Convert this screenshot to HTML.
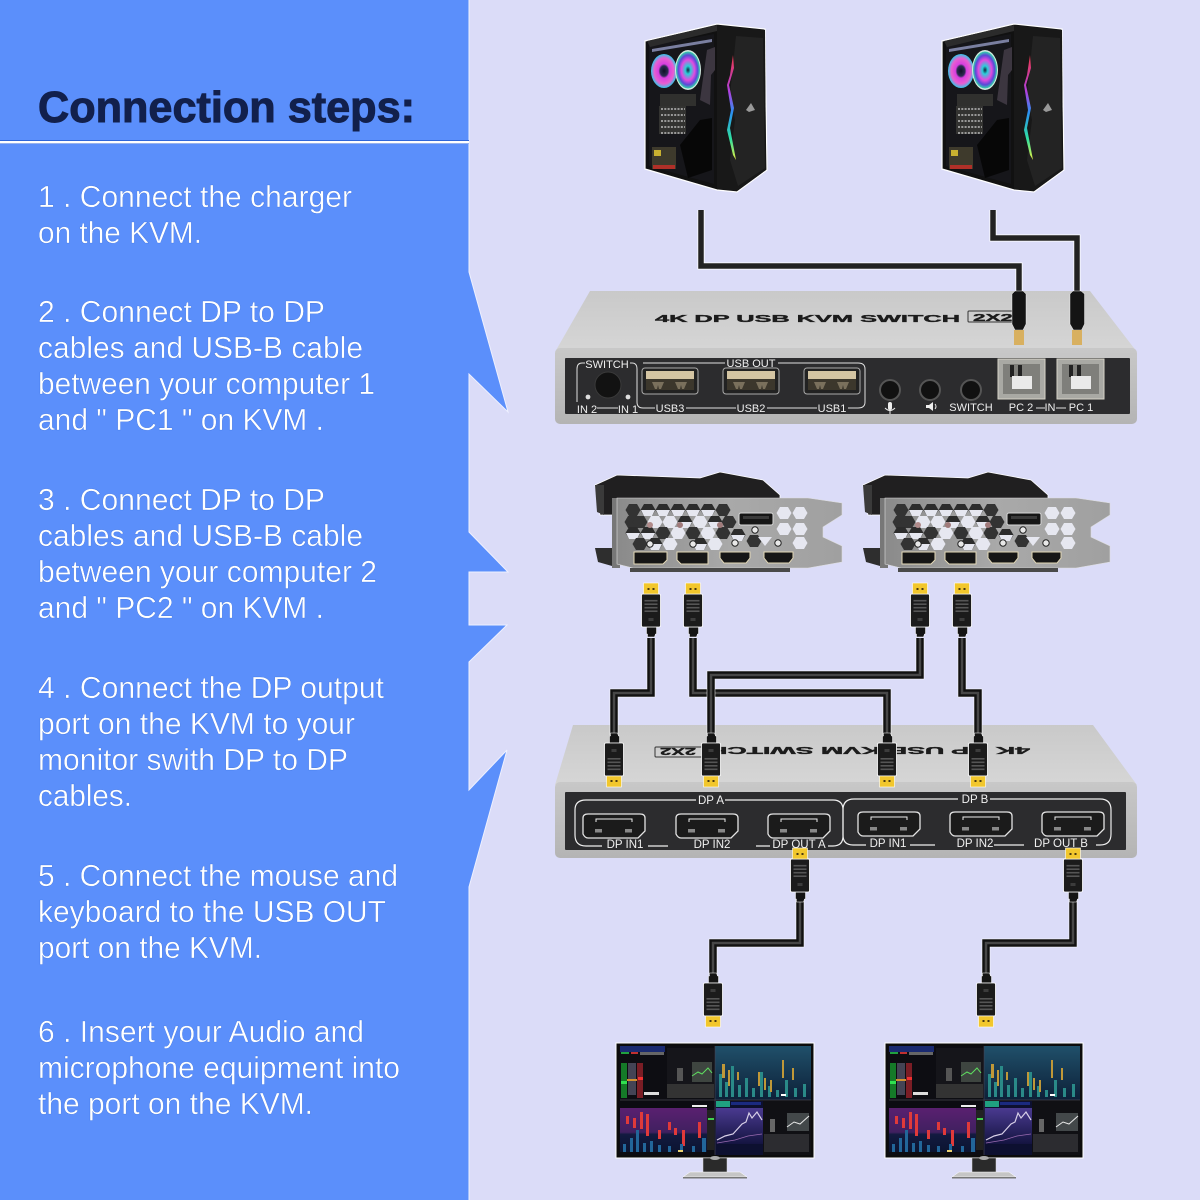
<!DOCTYPE html>
<html><head><meta charset="utf-8"><style>
html,body{margin:0;padding:0;background:#dbdcf8}
svg{display:block}
.s{font:31px "Liberation Sans",sans-serif;fill:#fff;stroke:#2f66d8;stroke-width:.3px}
.l{font:11px "Liberation Sans",sans-serif;fill:#f0f0f0;text-anchor:middle}
.d{font:11.5px "Liberation Sans",sans-serif;fill:#f0f0f0;text-anchor:middle}
.t{font:bold 14px "Liberation Sans",sans-serif;fill:#1c1c1c;stroke:#1c1c1c;stroke-width:.5px}
</style></head><body>
<svg width="1200" height="1200" viewBox="0 0 1200 1200" xmlns="http://www.w3.org/2000/svg">
<defs>
<linearGradient id="top" x1="0" y1="0" x2="0" y2="1"><stop offset="0" stop-color="#c9c9c9"/><stop offset="1" stop-color="#d6d6d6"/></linearGradient>
<linearGradient id="front" x1="0" y1="0" x2="0" y2="1"><stop offset="0" stop-color="#c8c8c8"/><stop offset="1" stop-color="#b4b4b4"/></linearGradient>
<radialGradient id="fan1"><stop offset="0" stop-color="#101025"/><stop offset=".3" stop-color="#2c2c52"/><stop offset=".42" stop-color="#d83fe0"/><stop offset=".75" stop-color="#e85fd0"/><stop offset="1" stop-color="#33c8e8"/></radialGradient>
<radialGradient id="fan2"><stop offset="0" stop-color="#10203a"/><stop offset=".22" stop-color="#28d0d8"/><stop offset=".55" stop-color="#e34be0"/><stop offset=".8" stop-color="#5a48d8"/><stop offset="1" stop-color="#30d8a8"/></radialGradient>
<linearGradient id="rgb" x1="0" y1="0" x2="0" y2="1"><stop offset="0" stop-color="#f03848"/><stop offset=".35" stop-color="#b040e0"/><stop offset=".55" stop-color="#2a90f0"/><stop offset=".8" stop-color="#30e0a0"/><stop offset="1" stop-color="#e8f040"/></linearGradient>
<linearGradient id="tr" x1="0" y1="0" x2="0" y2="1"><stop offset="0" stop-color="#20506a"/><stop offset="1" stop-color="#0d2038"/></linearGradient>
<linearGradient id="pl" x1="0" y1="0" x2="0" y2="1"><stop offset="0" stop-color="#5a2070"/><stop offset=".55" stop-color="#402060"/><stop offset=".6" stop-color="#121a40"/><stop offset="1" stop-color="#0c1430"/></linearGradient>
<linearGradient id="pl2" x1="0" y1="0" x2="0" y2="1"><stop offset="0" stop-color="#4a3a90"/><stop offset="1" stop-color="#141440"/></linearGradient>
<linearGradient id="plate" x1="0" y1="0" x2="1" y2="0"><stop offset="0" stop-color="#8a8a8a"/><stop offset=".5" stop-color="#a9a9a9"/><stop offset="1" stop-color="#a0a0a0"/></linearGradient>

<!-- DP plug, gold tip pointing DOWN; origin at cable centre -->
<g id="dpd">
<path d="M-3.500 0h7l1 3h1v7h-10v-7h1z" fill="#141414" stroke="#fff" stroke-width=".5"/>
<rect x="-9.500" y="10" width="19" height="33" rx="1.500" fill="#1b1b1b" stroke="#fff" stroke-width=".8"/>
<rect x="-2.500" y="16" width="5" height="3" fill="#3c3c3c"/>
<rect x="-6.500" y="25" width="13" height="1.600" fill="#555"/><rect x="-6.500" y="28.500" width="13" height="1.600" fill="#555"/><rect x="-6.500" y="32" width="13" height="1.600" fill="#555"/><rect x="-6.500" y="35.500" width="13" height="1.600" fill="#555"/>
<rect x="-7.500" y="43" width="15" height="11" fill="#f2c72c" stroke="#fff" stroke-width=".6"/>
<rect x="-3.500" y="47" width="2" height="2" fill="#4a3a10"/><rect x="1.500" y="47" width="2" height="2" fill="#4a3a10"/>
</g>

<!-- PC case -->
<g id="pc">
<polygon points="645,41 717,24 765,29 767,170 737,192 717,190 645,169" fill="#111" stroke="#fff" stroke-width="1.200"/>
<polygon points="649,46 714,34 714,184 649,166" fill="#16161a"/>
<polygon points="647,41 717,25 717,31 650,47" fill="#2b2b2b"/>
<polygon points="717,25 765,30 766,170 737,191 717,189" fill="#181818"/>
<polygon points="736,36 763,38 765,168 738,186 730,160 735,120 730,95" fill="#232323"/>
<polygon points="652,49 712,39 712,42 652,52" fill="#7a7fa0"/>
<ellipse cx="664" cy="71" rx="13" ry="17" fill="url(#fan1)"/>
<ellipse cx="688" cy="70" rx="13" ry="20" fill="#d0e8e0"/>
<ellipse cx="688" cy="70" rx="12" ry="18.500" fill="url(#fan2)"/>
<polygon points="707,50 715,47 715,70 711,75 710,105 700,100" fill="#3c3640"/>
<rect x="660" y="94" width="36" height="12" fill="#30302e"/>
<rect x="659" y="106" width="27" height="28" fill="#333331"/>
<g stroke="#bbb" stroke-width="1.600" stroke-dasharray="2 1.300"><line x1="661" y1="109" x2="685" y2="109"/><line x1="661" y1="115" x2="685" y2="115"/><line x1="661" y1="121" x2="685" y2="121"/><line x1="661" y1="127" x2="685" y2="127"/><line x1="661" y1="133" x2="685" y2="133"/></g>
<rect x="652" y="147" width="24" height="22" fill="#3e3a2c"/>
<rect x="653" y="165" width="22" height="4" fill="#b03028"/><rect x="654" y="150" width="7" height="6" fill="#c8b030"/>
<polygon points="700,120 712,118 712,170 688,178 680,145" fill="#070707"/>
<polygon points="733,55 730,75 727,85 731,110 727,130 733,155 736,160 730,128 734,108 729,85 734,68" fill="url(#rgb)"/>
<polygon points="751,103 755,110 749,112 746,110" fill="#999"/>
</g>

<!-- hex hole -->
<g id="hx">
<polygon points="-4,-6 4,-6 7.500,0 4,6 -4,6 -7.500,0" fill="#2c2c2c"/>
<polygon points="-7,0 7,0 4,6 -4,6" fill="#e6e7f0"/>
</g>
<g id="hw"><polygon points="-4,-6 4,-6 7.500,0 4,6 -4,6 -7.500,0" fill="#e6e7f0"/></g>
<g id="hd"><polygon points="-4,-6 4,-6 7.500,0 4,6 -4,6 -7.500,0" fill="#333"/></g>

<!-- GPU -->
<g id="gpu">
<polygon points="595,485 617,475 700,478 720,472 763,480 780,495 780,515 600,515" fill="#201f20" stroke="#fff" stroke-width=".8"/>
<polygon points="595,485 604,485 604,515 597,512" fill="#3a3a3a"/>
<polygon points="595,548 612,548 612,566 598,562" fill="#2e2e2e"/>
<rect x="612" y="498" width="8" height="70" fill="#777"/>
<polygon points="617,498 808,498 842,503 842,515 823,527 823,537 842,546 842,562 808,568 633,568 617,564" fill="url(#plate)" stroke="#ddd" stroke-width=".6"/>
<use href="#hd" x="633" y="510"/><use href="#hx" x="648" y="510"/><use href="#hx" x="663" y="510"/><use href="#hx" x="678" y="510"/><use href="#hx" x="693" y="510"/><use href="#hx" x="708" y="510"/><use href="#hd" x="723" y="510"/>
<use href="#hd" x="632" y="522"/><use href="#hw" x="655" y="522"/><use href="#hd" x="640" y="522"/><use href="#hw" x="670" y="522"/><use href="#hx" x="685" y="522"/><use href="#hw" x="700" y="522"/><use href="#hx" x="715" y="522"/><use href="#hd" x="729" y="522"/>
<use href="#hx" x="633" y="533"/><use href="#hx" x="648" y="533"/><use href="#hd" x="663" y="533"/><use href="#hw" x="678" y="533"/><use href="#hd" x="693" y="533"/><use href="#hw" x="708" y="533"/><use href="#hd" x="723" y="533"/><use href="#hx" x="738" y="535"/>
<use href="#hd" x="640" y="544"/><use href="#hx" x="655" y="544"/><use href="#hw" x="670" y="544"/><use href="#hx" x="700" y="544"/><use href="#hw" x="715" y="544"/><use href="#hd" x="754" y="541"/>
<use href="#hw" x="784" y="513"/><use href="#hw" x="800" y="513"/><use href="#hw" x="784" y="529"/><use href="#hw" x="800" y="529"/><use href="#hw" x="800" y="543"/>
<polygon points="758,537 772,537 765,546" fill="#e6e7f0"/>
<circle cx="650" cy="525" r="3" fill="#b08a8a"/><circle cx="680" cy="525" r="3" fill="#a07a7a"/><circle cx="720" cy="525" r="3" fill="#a07a7a"/>
<rect x="739" y="513" width="34" height="12" rx="2" fill="#161616" stroke="#d8d8d8"/>
<rect x="743" y="516" width="26" height="3" fill="#3a3a3a"/>
<circle cx="755" cy="530" r="3.200" fill="#e8e8e8" stroke="#222"/>
<circle cx="650" cy="544" r="3.200" fill="#e8e8e8" stroke="#222"/><circle cx="693" cy="544" r="3.200" fill="#e8e8e8" stroke="#222"/><circle cx="735" cy="543" r="3.200" fill="#e8e8e8" stroke="#222"/><circle cx="778" cy="543" r="3.200" fill="#e8e8e8" stroke="#222"/>
<g fill="#161616" stroke="#e4d9b8" stroke-width="1">
<polygon points="634,552 667,552 667,560 663,564 634,564"/>
<polygon points="677,552 708,552 708,564 681,564 677,560"/>
<polygon points="720,552 750,552 750,558 746,563 724,563 720,558"/>
<polygon points="764,552 793,552 793,558 789,563 768,563 764,558"/>
</g>
<rect x="630" y="568" width="160" height="4" fill="#4a4a4a"/>
</g>

<!-- Monitor -->
<g id="mon">
<rect x="616" y="1043" width="198" height="115" fill="#0c0c0c" stroke="#fff" stroke-width="1"/>
<rect x="619" y="1046" width="96" height="54" fill="#0d0d12"/>
<rect x="620" y="1046" width="45" height="6" fill="#1a2a70"/>
<rect x="621" y="1052" width="8" height="2" fill="#20a040"/><rect x="631" y="1052" width="7" height="2" fill="#c03030"/><rect x="640" y="1052" width="24" height="3" fill="#666"/>
<rect x="621" y="1063" width="6" height="35" fill="#157a28"/><rect x="621" y="1081" width="6" height="3" fill="#30e050"/>
<rect x="637" y="1063" width="6" height="35" fill="#7a1d25"/><rect x="638" y="1077" width="5" height="3" fill="#f03030"/>
<rect x="628" y="1063" width="8" height="32" fill="#445"/><rect x="627" y="1079" width="10" height="2" fill="#d09030"/>
<rect x="644" y="1092" width="15" height="3" fill="#ddd"/>
<rect x="667" y="1048" width="47" height="50" fill="#15151a"/>
<rect x="677" y="1068" width="6" height="13" fill="#555"/><rect x="692" y="1062" width="20" height="20" fill="#3e4540"/>
<polyline points="692,1076 698,1072 702,1074 708,1068 712,1073" fill="none" stroke="#5fe060"/>
<rect x="667" y="1084" width="47" height="14" fill="#333"/>
<rect x="715" y="1046" width="96" height="54" fill="url(#tr)"/>
<g fill="#2a8a88"><rect x="719" y="1074" width="3" height="23"/><rect x="725" y="1082" width="3" height="15"/><rect x="731" y="1066" width="3" height="31"/><rect x="738" y="1085" width="3" height="12"/><rect x="745" y="1078" width="3" height="19"/><rect x="752" y="1088" width="3" height="9"/><rect x="760" y="1072" width="3" height="25"/><rect x="768" y="1086" width="3" height="11"/><rect x="776" y="1090" width="3" height="7"/><rect x="785" y="1080" width="3" height="17"/><rect x="794" y="1088" width="3" height="9"/><rect x="803" y="1084" width="3" height="13"/></g>
<g fill="#c09838"><rect x="722" y="1064" width="3" height="14"/><rect x="728" y="1070" width="2" height="16"/><rect x="737" y="1072" width="2" height="8"/><rect x="758" y="1072" width="2" height="14"/><rect x="764" y="1078" width="2" height="12"/><rect x="770" y="1080" width="2" height="12"/><rect x="782" y="1060" width="2" height="18"/><rect x="792" y="1068" width="2" height="12"/></g>
<rect x="781" y="1094" width="5" height="2" fill="#fff"/>
<rect x="619" y="1101" width="96" height="54" fill="#0c0c12"/>
<rect x="620" y="1108" width="87" height="44" fill="url(#pl)"/>
<rect x="692" y="1105" width="15" height="2" fill="#eee"/>
<g fill="#e03a3a"><rect x="626" y="1116" width="3" height="8"/><rect x="633" y="1118" width="3" height="10"/><rect x="640" y="1112" width="3" height="17"/><rect x="646" y="1114" width="3" height="22"/><rect x="658" y="1130" width="3" height="9"/><rect x="668" y="1122" width="3" height="8"/><rect x="674" y="1128" width="3" height="7"/><rect x="682" y="1130" width="3" height="16"/><rect x="698" y="1122" width="3" height="16"/></g>
<g fill="#22669a"><rect x="623" y="1144" width="3" height="8"/><rect x="630" y="1138" width="3" height="14"/><rect x="636" y="1130" width="3" height="22"/><rect x="643" y="1143" width="3" height="9"/><rect x="650" y="1141" width="3" height="11"/><rect x="658" y="1145" width="3" height="7"/><rect x="668" y="1146" width="3" height="6"/><rect x="680" y="1144" width="3" height="8"/><rect x="692" y="1146" width="3" height="6"/><rect x="702" y="1138" width="4" height="14"/></g>
<rect x="707" y="1110" width="7" height="40" fill="#222"/><rect x="708" y="1118" width="6" height="2" fill="#40d050"/>
<rect x="678" y="1150" width="5" height="2" fill="#e8d070"/>
<rect x="715" y="1101" width="48" height="54" fill="#0d1030"/>
<rect x="716" y="1101" width="14" height="6" fill="#20a080"/><rect x="731" y="1102" width="30" height="3" fill="#1a2a80"/>
<rect x="716" y="1108" width="47" height="36" fill="url(#pl2)"/>
<polyline points="717,1140 725,1136 733,1134 742,1124 746,1122 749,1113 752,1118 757,1112 762,1120" fill="none" stroke="#d8d0e8" stroke-width="1.200"/>
<polyline points="717,1143 735,1140 748,1136 762,1134" fill="none" stroke="#9a6ab0" stroke-width=".8"/>
<rect x="763" y="1101" width="48" height="54" fill="#101014"/>
<rect x="770" y="1119" width="5" height="13" fill="#666"/><rect x="787" y="1113" width="22" height="18" fill="#43484a"/>
<polyline points="787,1127 794,1122 800,1124 809,1116" fill="none" stroke="#e8e8e8"/>
<rect x="764" y="1134" width="45" height="18" fill="#2c2c30"/>
<g stroke="#445" stroke-width=".7"><line x1="620" y1="1100" x2="811" y2="1100"/><line x1="715" y1="1046" x2="715" y2="1155"/></g>
<polygon points="703,1158 727,1158 727,1174 703,1174" fill="#2a2a2a" stroke="#ddd" stroke-width=".5"/>
<ellipse cx="715" cy="1158" rx="5" ry="2" fill="#aaa"/>
<polygon points="690,1172 740,1172 747,1177 683,1177" fill="#c5c5c5" stroke="#fff" stroke-width=".5"/>
<rect x="683" y="1177" width="64" height="1.500" fill="#777"/>
</g>

<!-- USB A -->
<g id="usb">
<rect x="0" y="0" width="56" height="26" rx="3" fill="#222" stroke="#aaa" stroke-width="1"/>
<rect x="4" y="3" width="48" height="8" fill="#d4c5a3"/>
<rect x="4" y="11" width="48" height="11" fill="#3c372c"/>
<path d="M10 14h12l-3 7h-2l-1-4-1 4h-2zM33 14h12l-3 7h-2l-1-4-1 4h-2z" fill="#7a705c"/>
</g>
<!-- USB B -->
<g id="usbb">
<rect x="0" y="0" width="47" height="40" fill="#a9a9a4" stroke="#d6d4c8" stroke-width="1"/>
<rect x="5" y="5" width="37" height="30" fill="#7f7f7b"/>
<rect x="12" y="6" width="4" height="12" fill="#222"/><rect x="20" y="6" width="4" height="12" fill="#222"/>
<rect x="14" y="17" width="20" height="13" fill="#eaeaea"/>
</g>
<!-- DP port -->
<g id="dpp">
<path d="M1 5q0-4 5-4h52q5 0 5 4v13l-7 7h-50q-3 0-5-4z" fill="#1b1b1b" stroke="#e4e4e4" stroke-width="1.300"/>
<path d="M14 9v-3h36v3" fill="none" stroke="#eee" stroke-width="1"/>
<rect x="13" y="16" width="7" height="3.500" fill="#888"/><rect x="43" y="16" width="7" height="3.500" fill="#888"/>
</g>
</defs>

<rect width="1200" height="1200" fill="#dbdcf8"/>

<!-- Left panel with callout notches -->
<polygon points="0,0 469,0 469,272 508,412 469,374 469,532 508,572 469,572 469,625 507,625 469,662 469,790 507,750 469,887 469,1200 0,1200" fill="#5b8ffb"/>
<polyline points="469,0 469,272 508,412 469,374 469,532 508,572 469,572 469,625 507,625 469,662 469,790 507,750 469,887 469,1200" fill="none" stroke="#eef0ff" stroke-width="1"/>

<text x="38" y="122" font-family="'Liberation Sans',sans-serif" font-weight="bold" font-size="44" fill="#12204c" stroke="#12204c" stroke-width="1" textLength="377" lengthAdjust="spacingAndGlyphs">Connection steps:</text>
<rect x="0" y="140" width="469" height="4" fill="#2f66d8"/>
<rect x="0" y="141" width="469" height="2.500" fill="#fff"/>

<g>
<text class="s" x="38" y="207" textLength="314" lengthAdjust="spacingAndGlyphs">1 . Connect the charger</text>
<text class="s" x="38" y="243" textLength="164" lengthAdjust="spacingAndGlyphs">on the KVM.</text>
<text class="s" x="38" y="322" textLength="287" lengthAdjust="spacingAndGlyphs">2 . Connect DP to DP</text>
<text class="s" x="38" y="358" textLength="325" lengthAdjust="spacingAndGlyphs">cables and USB-B cable</text>
<text class="s" x="38" y="394" textLength="337" lengthAdjust="spacingAndGlyphs">between your computer 1</text>
<text class="s" x="38" y="430" textLength="286" lengthAdjust="spacingAndGlyphs">and " PC1 " on KVM .</text>
<text class="s" x="38" y="510" textLength="287" lengthAdjust="spacingAndGlyphs">3 . Connect DP to DP</text>
<text class="s" x="38" y="546" textLength="325" lengthAdjust="spacingAndGlyphs">cables and USB-B cable</text>
<text class="s" x="38" y="582" textLength="339" lengthAdjust="spacingAndGlyphs">between your computer 2</text>
<text class="s" x="38" y="618" textLength="286" lengthAdjust="spacingAndGlyphs">and " PC2 " on KVM .</text>
<text class="s" x="38" y="698" textLength="346" lengthAdjust="spacingAndGlyphs">4 . Connect the DP output</text>
<text class="s" x="38" y="734" textLength="317" lengthAdjust="spacingAndGlyphs">port on the KVM to your</text>
<text class="s" x="38" y="770" textLength="310" lengthAdjust="spacingAndGlyphs">monitor swith DP to DP</text>
<text class="s" x="38" y="806" textLength="94" lengthAdjust="spacingAndGlyphs">cables.</text>
<text class="s" x="38" y="886" textLength="360" lengthAdjust="spacingAndGlyphs">5 . Connect the mouse and</text>
<text class="s" x="38" y="922" textLength="348" lengthAdjust="spacingAndGlyphs">keyboard to the USB OUT</text>
<text class="s" x="38" y="958" textLength="224" lengthAdjust="spacingAndGlyphs">port on the KVM.</text>
<text class="s" x="38" y="1042" textLength="326" lengthAdjust="spacingAndGlyphs">6 . Insert your Audio and</text>
<text class="s" x="38" y="1078" textLength="362" lengthAdjust="spacingAndGlyphs">microphone equipment into</text>
<text class="s" x="38" y="1114" textLength="275" lengthAdjust="spacingAndGlyphs">the port on the KVM.</text>
</g>

<!-- PCs -->
<use href="#pc"/>
<use href="#pc" x="297"/>

<!-- KVM 1 -->
<polygon points="590,291 1090,291 1137,352 555,352" fill="url(#top)"/>
<rect x="555" y="348" width="582" height="76" rx="5" fill="url(#front)"/>
<rect x="565" y="358" width="565" height="56" rx="1" fill="#2c2c2e"/>
<text class="t" transform="translate(655,322) scale(1,.72)" textLength="305" lengthAdjust="spacingAndGlyphs">4K DP USB KVM SWITCH</text>
<rect x="968" y="311" width="48" height="11" rx="1" fill="none" stroke="#333" stroke-width="1"/>
<text class="t" transform="translate(973,321) scale(1,.72)" textLength="40" lengthAdjust="spacingAndGlyphs">2X2</text>
<g fill="none" stroke="#e0e0e0" stroke-width="1">
<path d="M585 363h-3q-5 0-5 6v33"/><path d="M630 363h2q5 0 5 6v33q0 6 6 6h12M686 408h50M767 408h50M848 408h10q7 0 7-6v-33q0-6-7-6H778M725 363H643"/><path d="M597 408h21"/>
<path d="M1036 408h9M1056 408h10"/>
</g>
<circle cx="608" cy="385" r="13" fill="#121212" stroke="#3a3a3a"/>
<circle cx="588" cy="397" r="2.400" fill="#ddd"/><circle cx="628" cy="397" r="2.400" fill="#ddd"/>
<use href="#usb" x="642" y="368"/><use href="#usb" x="723" y="368"/><use href="#usb" x="804" y="368"/>
<g fill="#111" stroke="#555" stroke-width="2"><circle cx="890" cy="390" r="10"/><circle cx="930" cy="390" r="10"/><circle cx="971" cy="390" r="10"/></g>
<use href="#usbb" x="998" y="359"/><use href="#usbb" x="1057" y="359"/>
<g>
<text class="l" x="607" y="368">SWITCH</text><text class="l" x="751" y="367">USB OUT</text>
<text class="l" x="587" y="413">IN 2</text><text class="l" x="628" y="413">IN 1</text>
<text class="l" x="670" y="412">USB3</text><text class="l" x="751" y="412">USB2</text><text class="l" x="832" y="412">USB1</text>
<text class="l" x="971" y="411">SWITCH</text><text class="l" x="1021" y="411">PC 2</text><text class="l" x="1050" y="411">IN</text><text class="l" x="1081" y="411">PC 1</text>
</g>
<rect x="888" y="402" width="4" height="8" rx="2" fill="#eee"/><path d="M885 408q5 5 10 0M890 411v3" stroke="#eee" fill="none"/>
<path d="M926 405h3l4-3v9l-4-3h-3z" fill="#eee"/><path d="M935 404q2 2.500 0 5" stroke="#eee" fill="none"/>

<!-- USB cables -->
<g fill="none" stroke-linejoin="miter">
<path d="M701 210V266H1019V293" stroke="#fff" stroke-width="7"/>
<path d="M701 210V266H1019V293" stroke="#222" stroke-width="5.500"/>
<path d="M993 210V238H1077V292" stroke="#fff" stroke-width="7"/>
<path d="M993 210V238H1077V292" stroke="#222" stroke-width="5.500"/>
</g>
<path d="M1015 291h8l3 3v30l-3 6h-8l-3-6v-30z" fill="#141414" stroke="#fff" stroke-width=".4"/>
<path d="M1073 291h8l3.500 3v30l-3 6h-8l-3.500-6v-30z" fill="#141414" stroke="#fff" stroke-width=".4"/>
<rect x="1014" y="330" width="10" height="15" fill="#d8b060"/><rect x="1072" y="330" width="10" height="15" fill="#d8b060"/>

<!-- GPUs -->
<use href="#gpu"/>
<use href="#gpu" x="268"/>

<!-- KVM 2 -->
<polygon points="573,725 1093,725 1137,785 555,785" fill="url(#top)"/>
<rect x="555" y="782" width="582" height="76" rx="5" fill="url(#front)"/>
<rect x="565" y="792" width="561" height="58" rx="1" fill="#2c2c2e"/>
<text class="t" transform="translate(1030,747) rotate(180) scale(1,.72)" textLength="322" lengthAdjust="spacingAndGlyphs">4K DP USB KVM SWITCH</text>
<rect x="655" y="747" width="52" height="10" rx="1" fill="none" stroke="#333"/>
<text class="t" transform="translate(696,748) rotate(180) scale(1,.72)" textLength="36" lengthAdjust="spacingAndGlyphs">2X2</text>
<g fill="none" stroke="#eee" stroke-width="1.200">
<path d="M696 800H586q-11 0-11 10v25q0 11 11 11h16M648 846h20M756 846h14M828 846h5q10 0 10-10v-26q0-10-10-10H725"/>
<path d="M958 799H854q-11 0-11 11v25q0 10 10 10h13M910 845h25M994 845h30M1096 845h4q11 0 11-11v-24q0-11-11-11h-110"/>
</g>
<use href="#dpp" x="582" y="813"/><use href="#dpp" x="675" y="813"/><use href="#dpp" x="767" y="813"/>
<use href="#dpp" x="857" y="811"/><use href="#dpp" x="949" y="811"/><use href="#dpp" x="1041" y="811"/>
<g>
<text class="d" x="711" y="804">DP A</text><text class="d" x="975" y="803">DP B</text>
<text class="d" x="625" y="848">DP IN1</text><text class="d" x="712" y="848">DP IN2</text><text class="d" x="799" y="848">DP OUT A</text>
<text class="d" x="888" y="847">DP IN1</text><text class="d" x="975" y="847">DP IN2</text><text class="d" x="1061" y="847">DP OUT B</text>
</g>

<!-- DP cables -->
<g fill="none" stroke-linejoin="miter">
<path d="M651 638V693H614V735" stroke="#fff" stroke-width="8.500"/>
<path d="M693 638V693H887V735" stroke="#fff" stroke-width="8.500"/>
<path d="M651 638V693H614V735" stroke="#111" stroke-width="7.500"/><path d="M651 638V693H614V735" stroke="#474747" stroke-width="2.500"/>
<path d="M693 638V693H887V735" stroke="#111" stroke-width="7.500"/><path d="M693 638V693H887V735" stroke="#474747" stroke-width="2.500"/>
<path d="M962 638V693H978V735" stroke="#fff" stroke-width="8.500"/><path d="M962 638V693H978V735" stroke="#111" stroke-width="7.500"/><path d="M962 638V693H978V735" stroke="#474747" stroke-width="2.500"/>
<path d="M920 638V675H711V735" stroke="#fff" stroke-width="8.500"/><path d="M920 638V675H711V735" stroke="#111" stroke-width="7.500"/><path d="M920 638V675H711V735" stroke="#474747" stroke-width="2.500"/>
<path d="M800 895V943H713V975" stroke="#fff" stroke-width="8.500"/><path d="M800 895V943H713V975" stroke="#111" stroke-width="7.500"/><path d="M800 895V943H713V975" stroke="#474747" stroke-width="2.500"/>
<path d="M1073 895V943H986V975" stroke="#fff" stroke-width="8.500"/><path d="M1073 895V943H986V975" stroke="#111" stroke-width="7.500"/><path d="M1073 895V943H986V975" stroke="#474747" stroke-width="2.500"/>
</g>
<!-- plugs, gold tip up -->
<g transform="translate(651,637) scale(1,-1)"><use href="#dpd"/></g>
<g transform="translate(693,637) scale(1,-1)"><use href="#dpd"/></g>
<g transform="translate(920,637) scale(1,-1)"><use href="#dpd"/></g>
<g transform="translate(962,637) scale(1,-1)"><use href="#dpd"/></g>
<g transform="translate(800,902) scale(1,-1)"><use href="#dpd"/></g>
<g transform="translate(1073,902) scale(1,-1)"><use href="#dpd"/></g>
<!-- plugs, gold tip down -->
<use href="#dpd" x="614" y="733"/><use href="#dpd" x="711" y="733"/><use href="#dpd" x="887" y="733"/><use href="#dpd" x="978" y="733"/>
<use href="#dpd" x="713" y="973"/><use href="#dpd" x="986" y="973"/>

<!-- Monitors -->
<use href="#mon"/>
<use href="#mon" x="269"/>
</svg>
</body></html>
